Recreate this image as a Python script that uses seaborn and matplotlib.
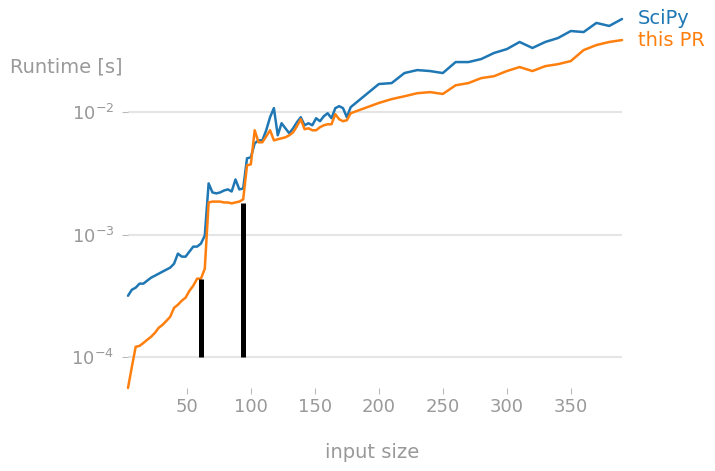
import matplotlib
matplotlib.use("Agg")
import matplotlib.pyplot as plt
import seaborn as sns
import pandas as pd

# input sizes (dense sweep, then coarse)
sizes = [4, 7, 10, 13, 16, 19, 22, 25, 28, 31, 34, 37, 40, 43, 46, 49, 52, 55, 58, 61,
         64, 67, 70, 73, 76, 79, 82, 85, 88, 91, 94, 97, 100, 103, 106, 109, 112, 115, 118, 121,
         124, 127, 130, 133, 136, 139, 142, 145, 148, 151, 154, 157, 160, 163, 166, 169, 172, 175, 178,
         200, 210, 220, 230, 240, 250, 260, 270, 280, 290, 300, 310, 320, 330, 340, 350, 360, 370, 380, 390]

# runtime [s]
scipy_runtime = [3.16e-4, 3.54e-4, 3.68e-4, 3.97e-4, 3.97e-4, 4.20e-4, 4.44e-4, 4.61e-4, 4.79e-4, 4.98e-4,
                 5.17e-4, 5.37e-4, 5.78e-4, 6.99e-4, 6.60e-4, 6.60e-4, 7.26e-4, 7.97e-4, 7.97e-4, 8.44e-4,
                 9.81e-4, 2.62e-3, 2.21e-3, 2.17e-3, 2.21e-3, 2.29e-3, 2.34e-3, 2.25e-3, 2.82e-3, 2.34e-3,
                 2.38e-3, 4.20e-3, 4.28e-3, 5.57e-3, 5.89e-3, 5.89e-3, 7.12e-3, 9.10e-3, 1.08e-2, 6.48e-3,
                 8.13e-3, 7.39e-3, 6.73e-3, 7.39e-3, 8.28e-3, 9.10e-3, 7.82e-3, 8.13e-3, 7.82e-3, 8.93e-3,
                 8.44e-3, 9.27e-3, 9.81e-3, 8.93e-3, 1.08e-2, 1.12e-2, 1.08e-2, 9.10e-3, 1.10e-2,
                 1.70e-2, 1.73e-2, 2.09e-2, 2.21e-2, 2.17e-2, 2.09e-2, 2.57e-2, 2.57e-2, 2.72e-2, 3.05e-2,
                 3.28e-2, 3.75e-2, 3.35e-2, 3.75e-2, 4.04e-2, 4.61e-2, 4.52e-2, 5.37e-2, 5.07e-2, 5.78e-2]

pr_runtime = [5.57e-5, 8.28e-5, 1.21e-4, 1.23e-4, 1.30e-4, 1.38e-4, 1.46e-4, 1.57e-4, 1.73e-4, 1.83e-4,
              1.97e-4, 2.13e-4, 2.52e-4, 2.67e-4, 2.88e-4, 3.05e-4, 3.47e-4, 3.82e-4, 4.36e-4, 4.36e-4,
              5.26e-4, 1.83e-3, 1.86e-3, 1.86e-3, 1.86e-3, 1.83e-3, 1.83e-3, 1.80e-3, 1.83e-3, 1.86e-3,
              1.94e-3, 3.68e-3, 3.75e-3, 7.12e-3, 5.68e-3, 5.68e-3, 6.35e-3, 7.12e-3, 5.89e-3, 6.01e-3,
              6.12e-3, 6.24e-3, 6.48e-3, 6.85e-3, 7.68e-3, 8.76e-3, 7.26e-3, 7.39e-3, 7.12e-3, 7.12e-3,
              7.54e-3, 7.82e-3, 7.97e-3, 7.97e-3, 9.63e-3, 8.76e-3, 8.44e-3, 8.60e-3, 9.81e-3,
              1.19e-2, 1.28e-2, 1.35e-2, 1.43e-2, 1.46e-2, 1.41e-2, 1.66e-2, 1.73e-2, 1.90e-2, 1.97e-2,
              2.17e-2, 2.34e-2, 2.17e-2, 2.38e-2, 2.47e-2, 2.62e-2, 3.22e-2, 3.54e-2, 3.75e-2, 3.89e-2]

# black marker bars
bar_x = [61, 94]
bar_bottom = [1e-4, 1e-4]
bar_top = [4.3e-4, 1.8e-3]

names = ["SciPy", "this PR"]
colors = ["#1f77b4", "#ff7f0e"]
gray = "#999999"

df = pd.concat([
    pd.DataFrame({"size": sizes, "runtime": scipy_runtime, "impl": names[0]}),
    pd.DataFrame({"size": sizes, "runtime": pr_runtime, "impl": names[1]}),
])

sns.set_style("white")
plt.rcParams['font.family'] = ['DejaVu Sans']

fig = plt.figure(figsize=(7.15, 4.71), dpi=100)
ax = fig.add_axes([128 / 715, 1 - 388 / 471, (622 - 128) / 715, (388 - 19) / 471])

sns.lineplot(data=df, x="size", y="runtime", hue="impl", palette=colors,
             legend=False, linewidth=1.8, ax=ax, clip_on=False)
ax.vlines(bar_x, bar_bottom, bar_top, colors="black", linewidth=3.6, zorder=3)

ax.set_yscale("log")
ax.set_xlim(min(sizes), max(sizes))
ax.set_ylim(min(pr_runtime), max(scipy_runtime))
ax.set_xticks([50, 100, 150, 200, 250, 300, 350])
ax.minorticks_off()

for s in ax.spines.values():
    s.set_visible(False)
ax.grid(axis="y", color="#e5e5e5", linewidth=1.5)
ax.grid(axis="x", visible=False)
ax.tick_params(axis="both", which="major", direction="out", length=4, width=0.8, color="#bbbbbb",
               labelcolor=gray, labelsize=13, left=True, bottom=True)
ax.tick_params(axis="x", pad=3.5)
ax.tick_params(axis="y", pad=6)
ax.set_xlabel("")
ax.set_ylabel("")

for name, c, vals in zip(names, colors, [scipy_runtime, pr_runtime]):
    ax.annotate(name, xy=(sizes[-1], vals[-1]), xytext=(16, 0), textcoords="offset pixels",
                va="center", ha="left", color=c, fontsize=14, annotation_clip=False)

fig.text(10 / 715, 1 - 67 / 471, "Runtime [s]", color=gray, fontsize=14, ha="left", va="center")
fig.text(372 / 715, 1 - 452 / 471, "input size", color=gray, fontsize=14, ha="center", va="center")

fig.savefig("out.png", dpi=100)
